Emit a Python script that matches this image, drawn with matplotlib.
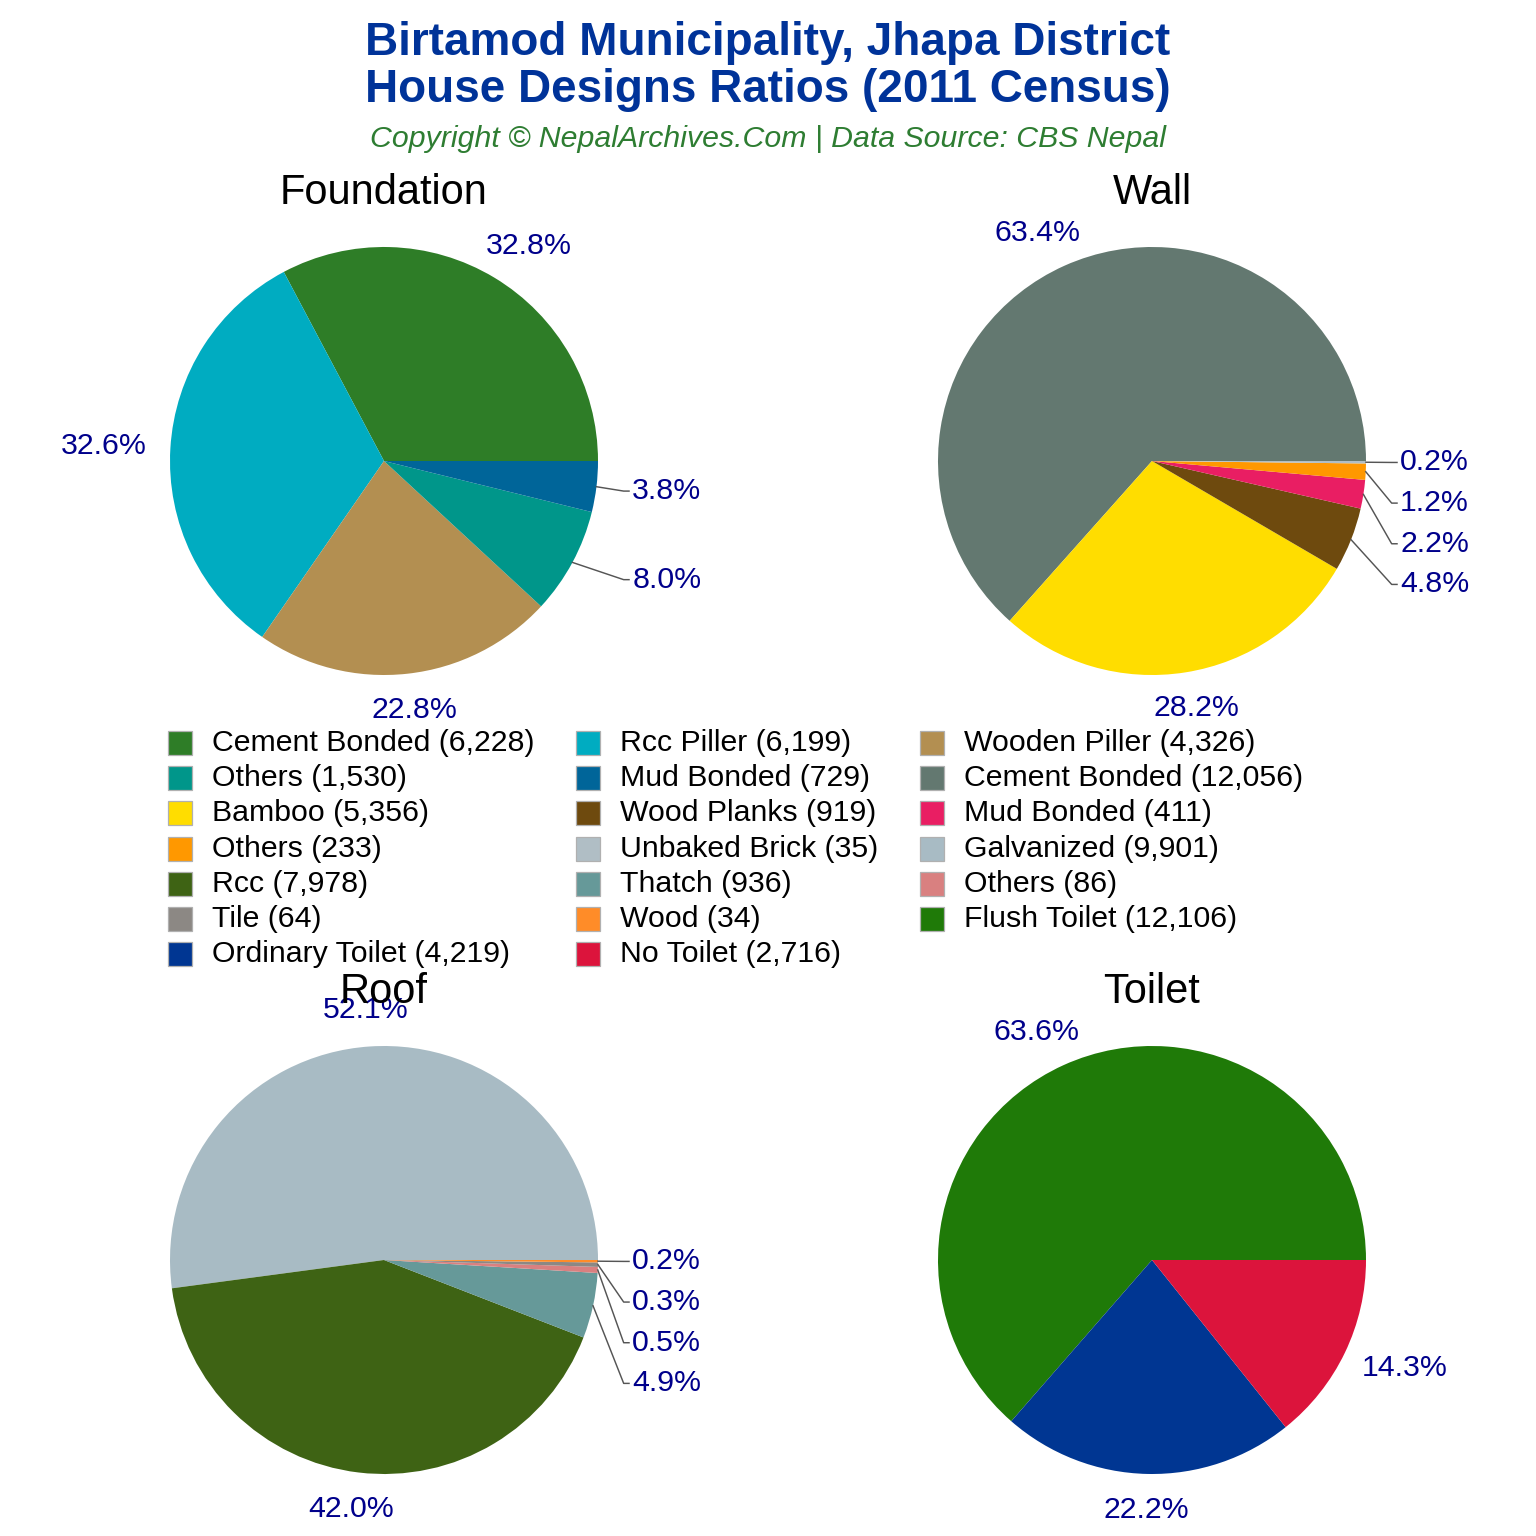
import numpy as np
import matplotlib
matplotlib.use('Agg')
import matplotlib.pyplot as plt
from matplotlib.patches import Rectangle

plt.rcParams['font.family'] = ['Liberation Sans', 'DejaVu Sans']

# Data
chart_titles = ['Foundation', 'Wall', 'Roof', 'Toilet']

foundation_labels = ['Cement Bonded', 'Rcc Piller', 'Wooden Piller', 'Others', 'Mud Bonded']
foundation_values = [6228, 6199, 4326, 1530, 729]
foundation_colors = ['#2e7d27', '#00acc1', '#b38f51', '#00968a', '#006599']

wall_labels = ['Cement Bonded', 'Bamboo', 'Wood Planks', 'Mud Bonded', 'Others', 'Unbaked Brick']
wall_values = [12056, 5356, 919, 411, 233, 35]
wall_colors = ['#637870', '#ffdd00', '#6e4a0e', '#e91e63', '#ff9800', '#b0bec5']

roof_labels = ['Galvanized', 'Rcc', 'Thatch', 'Others', 'Tile', 'Wood']
roof_values = [9901, 7978, 936, 86, 64, 34]
roof_colors = ['#a8bbc4', '#3e6314', '#669999', '#d98080', '#8c8884', '#ff8c28']

toilet_labels = ['Flush Toilet', 'Ordinary Toilet', 'No Toilet']
toilet_values = [12106, 4219, 2716]
toilet_colors = ['#1f7a08', '#003692', '#dc143c']

series = [
    (foundation_labels, foundation_values, foundation_colors),
    (wall_labels, wall_values, wall_colors),
    (roof_labels, roof_values, roof_colors),
    (toilet_labels, toilet_values, toilet_colors),
]

W = H = 1536
fig = plt.figure(figsize=(W / 150, H / 150), dpi=150)
fig.patch.set_facecolor('white')


def fx(px):
    return px / W


def fy(py):
    return 1 - py / H


pct_color = '#00008b'
centers = [(384, 461), (1152, 461), (384, 1260), (1152, 1260)]
radius_px = 214
half = 1.6  # axes half-size in data units

for (labels, values, colors), (cx, cy), title in zip(series, centers, chart_titles):
    size = half * radius_px
    ax = fig.add_axes([fx(cx - size), fy(cy + size), 2 * size / W, 2 * size / H])
    ax.set_facecolor('none')
    wedges, _ = ax.pie(values, colors=colors, startangle=0, counterclock=True,
                       radius=1, wedgeprops=dict(linewidth=0))
    ax.set_xlim(-half, half)
    ax.set_ylim(-half, half)
    ax.set_aspect('equal')
    ax.axis('off')

    total = sum(values)
    small = []
    for w, v in zip(wedges, values):
        pct = v / total * 100
        mid = np.deg2rad((w.theta1 + w.theta2) / 2)
        c, s = np.cos(mid), np.sin(mid)
        if pct >= 10:
            x = 1.1 * c + 0.21 * c
            y = 1.1 * s + 0.07 * s
            ax.text(x, y, f'{pct:.1f}%', ha='center', va='center',
                    fontsize=14.5, color=pct_color)
        else:
            small.append((s, c, pct))

    # stacked labels with leader lines for small slices
    small.sort(key=lambda t: -t[0])
    prev = None
    for s, c, pct in small:
        y = 1.17 * s
        if prev is not None:
            y = min(y, prev - 0.19)
        prev = y
        ax.plot([c, 1.12, 1.145], [s, y, y], color='#555555', lw=0.7,
                clip_on=False)
        ax.text(1.16, y, f'{pct:.1f}%', ha='left', va='center',
                fontsize=14.5, color=pct_color)

    fig.text(fx(cx), fy(cy - 268), title, ha='center', va='center', fontsize=20)

# Titles
fig.text(0.5, fy(43), 'Birtamod Municipality, Jhapa District', ha='center', va='center',
         fontsize=22, fontweight='bold', color='#003399')
fig.text(0.5, fy(90), 'House Designs Ratios (2011 Census)', ha='center', va='center',
         fontsize=22, fontweight='bold', color='#003399')
fig.text(0.5, fy(139), 'Copyright \u00a9 NepalArchives.Com | Data Source: CBS Nepal',
         ha='center', va='center', fontsize=14.5, style='italic', color='#2e7d32')

# Legend (row-major, 3 columns)
entries = []
for labels, values, colors in series:
    for lab, v, col in zip(labels, values, colors):
        entries.append((f'{lab} ({v:,})', col))

col_x = [168, 576, 920]
row_y0 = 743
row_h = 35.2
box = 24
for i, (text, col) in enumerate(entries):
    r, k = divmod(i, 3)
    x0 = col_x[k]
    yc = row_y0 + r * row_h
    fig.add_artist(Rectangle((fx(x0), fy(yc + box / 2)), box / W, box / H,
                             facecolor=col, edgecolor='#b0b0b0', lw=0.6,
                             transform=fig.transFigure))
    fig.text(fx(x0 + 44), fy(yc), text, ha='left', va='center', fontsize=14.5)

fig.savefig('out.png', dpi=150, facecolor='white')
